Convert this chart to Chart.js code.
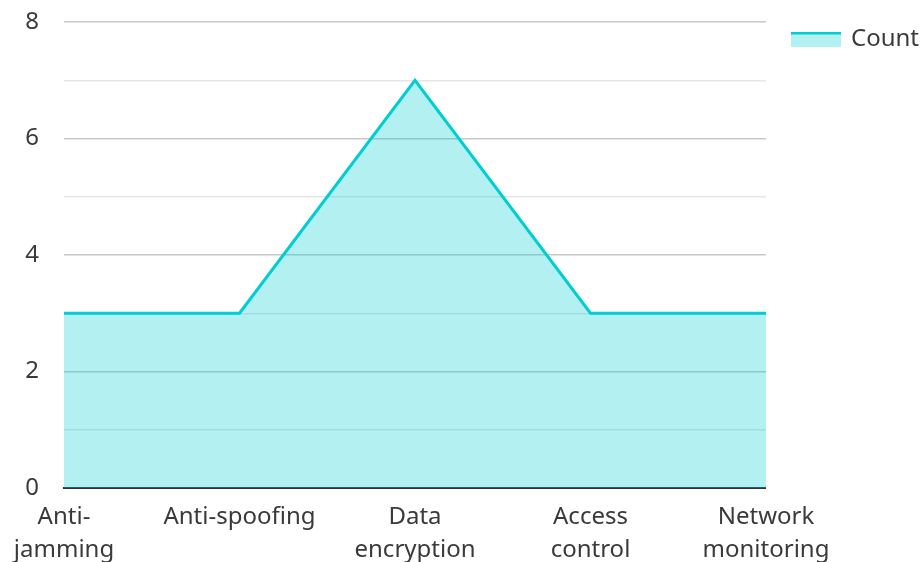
<!DOCTYPE html>
<html>
<head>
<meta charset="utf-8">
<script src="https://cdn.jsdelivr.net/npm/chart.js@4/dist/chart.umd.min.js"></script>
<style>
  html, body { margin: 0; padding: 0; overflow: hidden; background: #fff; }
  #wrap { position: relative; width: 924px; height: 566px; }
</style>
</head>
<body>
<div id="wrap"><canvas id="chart"></canvas></div>
<script>
// Security measures and how often each one appears
const categories = [["Anti-", "jamming"], "Anti-spoofing", ["Data", "encryption"], ["Access", "control"], ["Network", "monitoring"]];
const counts = [3, 3, 7, 3, 3];
const seriesName = "Count";
const yMin = 0;
const yMax = 8;
const yStep = 1;

const lineColor = "rgb(0, 206, 209)";
const fillColor = "rgba(0, 206, 209, 0.3)";
const textColor = "#3a3a3a";
const fontFamily = "'Noto Sans', sans-serif";

// Legend swatch: a thick top stroke above the area fill
const swatch = document.createElement("canvas");
swatch.width = 50;
swatch.height = 15;
const sctx = swatch.getContext("2d");
sctx.fillStyle = fillColor;
sctx.fillRect(0, 0, 50, 15);
sctx.fillStyle = lineColor;
sctx.fillRect(0, 0, 50, 3);

new Chart(document.getElementById("chart"), {
  type: "line",
  data: {
    labels: categories,
    datasets: [{
      label: seriesName,
      data: counts,
      borderColor: lineColor,
      backgroundColor: fillColor,
      borderWidth: 3,
      fill: "origin",
      tension: 0,
      pointRadius: 0,
      pointHoverRadius: 0
    }]
  },
  options: {
    responsive: true,
    maintainAspectRatio: false,
    animation: false,
    layout: { padding: { left: 0, top: 0, right: -5, bottom: 0 } },
    plugins: {
      tooltip: { enabled: false },
      legend: {
        position: "right",
        align: "start",
        labels: {
          usePointStyle: true,
          pointStyle: swatch,
          pointStyleWidth: 46,
          boxHeight: 15,
          color: textColor,
          font: { family: fontFamily, size: 24 },
          padding: 27
        }
      }
    },
    scales: {
      x: {
        offset: false,
        grid: { display: false, drawTicks: false },
        border: { display: true, color: "#333", width: 2 },
        ticks: {
          color: textColor,
          font: { family: fontFamily, size: 24, lineHeight: 1.375 },
          padding: 13,
          maxRotation: 0,
          autoSkip: false
        },
        afterFit: (scale) => { scale.height = 78; }
      },
      y: {
        min: yMin,
        max: yMax,
        grid: {
          drawTicks: true,
          tickLength: 17.4,
          tickColor: "rgba(0,0,0,0)",
          color: (ctx) => (ctx.tick && ctx.tick.value % 2 === 0) ? "rgb(200, 200, 200)" : "rgb(230, 230, 230)",
          lineWidth: 1.5
        },
        border: { display: false },
        ticks: {
          stepSize: yStep,
          padding: 7.6,
          color: textColor,
          font: { family: fontFamily, size: 24 },
          callback: (v) => (v % 2 === 0 ? v : "")
        },
        afterFit: (scale) => { scale.width = 64; }
      }
    }
  }
});
</script>
</body>
</html>
